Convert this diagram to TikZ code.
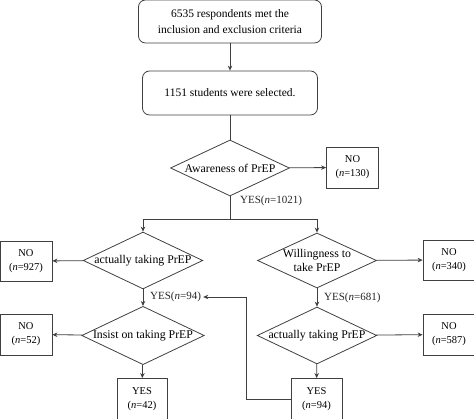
\documentclass[tikz,border=0pt]{standalone}
\usepackage{fontspec}
\setmainfont{Liberation Serif}
\usetikzlibrary{shapes.geometric, arrows.meta, positioning}

\begin{document}
\begin{tikzpicture}[
    x=1pt, y=1pt,
    roundbox/.style={rectangle, rounded corners=7pt, draw=black!75, line width=0.8pt, align=center, font=\fontsize{11.5}{16}\selectfont},
    decision/.style={diamond, aspect=2.1, draw=black!75, line width=0.8pt, inner sep=0pt, minimum width=119pt, minimum height=55pt, align=center, font=\fontsize{11.8}{14}\selectfont},
    outbox/.style={rectangle, draw=black!75, line width=0.8pt, minimum width=52pt, minimum height=41pt, align=center, font=\fontsize{10.5}{14}\selectfont},
    arrow/.style={-{Stealth[length=5pt, width=4.5pt]}, line width=0.8pt, black!75},
    line/.style={line width=0.8pt, black!75},
    yeslabel/.style={font=\fontsize{11}{12}\selectfont, text=black!85, inner sep=2pt},
]
\useasboundingbox (0,0) rectangle (474,419);

% Main flow
\node[roundbox, minimum width=183pt, minimum height=43pt] (start) at (230,397.5) {6535 respondents met the\\inclusion and exclusion criteria};
\node[roundbox, minimum width=175pt, minimum height=44pt] (select) at (230,326) {1151 students were selected.};
\node[decision, minimum height=56pt] (aware) at (230,251) {Awareness of PrEP};
\node[outbox] (no130) at (352.5,251.5) {NO\\(\textit{n}=130)};

% Left branch
\node[decision] (take) at (143,158.5) {actually taking PrEP};
\node[outbox, minimum height=40pt] (no927) at (26,158) {NO\\(\textit{n}=927)};
\node[decision] (insist) at (143,83.5) {Insist on taking PrEP};
\node[outbox] (no52) at (26,84.5) {NO\\(\textit{n}=52)};
\node[outbox, minimum width=50pt] (yes42) at (142,20) {YES\\(\textit{n}=42)};

% Right branch
\node[decision] (willing) at (317,158.5) {Willingness to\\take PrEP};
\node[outbox, minimum height=40pt] (no340) at (449,159) {NO\\(\textit{n}=340)};
\node[decision] (take2) at (317,83.5) {actually taking PrEP};
\node[outbox] (no587) at (449,84.5) {NO\\(\textit{n}=587)};
\node[outbox, minimum width=51pt] (yes94) at (316.5,20) {YES\\(\textit{n}=94)};

% Labels
\node[yeslabel, anchor=west] (yes1021) at (238,218) {YES(\textit{n}=1021)};
\node[yeslabel, anchor=west] (yes94l) at (148,122) {YES(\textit{n}=94)};
\node[yeslabel, anchor=west] (yes681) at (322,121) {YES(\textit{n}=681)};

% Arrows
\draw[arrow] (start) -- (select);
\draw[line] (select) -- (aware);
\draw[arrow] (aware) -- (no130);
\draw[line] (aware.south) -- (aware.south |- 0,200) coordinate (split);
\draw[arrow] (split) -| (take.north);
\draw[arrow] (split) -| (willing.north);
\draw[arrow] (take) -- (no927);
\draw[arrow] (take) -- (insist);
\draw[arrow] (insist) -- (no52);
\draw[arrow] (insist) -- (yes42);
\draw[arrow] (willing) -- (no340);
\draw[arrow] (willing) -- (take2);
\draw[arrow] (take2) -- (no587);
\draw[arrow] (take2) -- (yes94);
\draw[arrow] (yes94.west) -- ++(-44,0) |- (yes94l.east);

\end{tikzpicture}
\end{document}
